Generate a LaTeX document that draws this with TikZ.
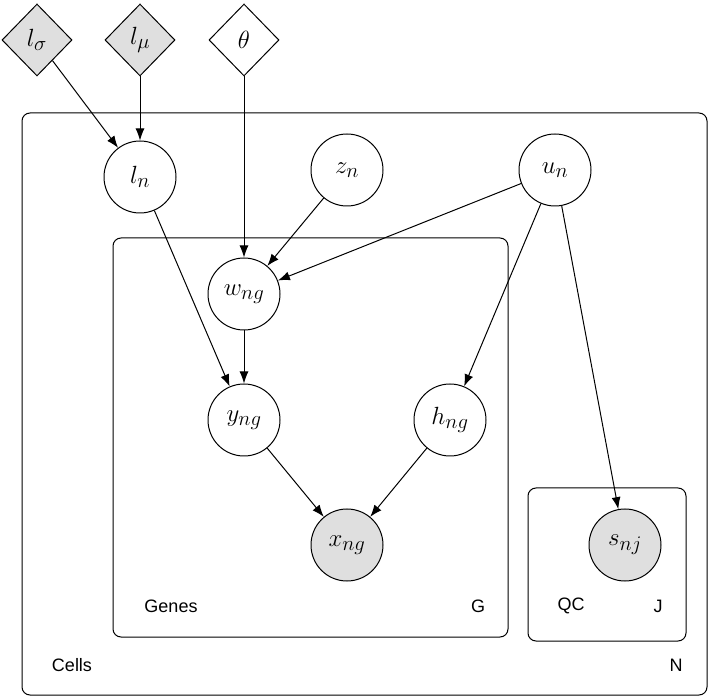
\documentclass[tikz,border=0pt]{standalone}
\usepackage{fontspec}
\newfontfamily\lsans{Liberation Sans}
\usetikzlibrary{shapes.geometric,arrows.meta}
\begin{document}
\begin{tikzpicture}[x=1pt,y=-1pt,line width=1pt,
  lat/.style={circle,draw,minimum size=72pt,inner sep=0pt,font=\fontsize{30}{34}\selectfont},
  obs/.style={lat,fill=gray!25},
  par/.style={diamond,draw,minimum width=70pt,minimum height=72pt,inner sep=0pt,font=\fontsize{30}{34}\selectfont},
  plate/.style={draw,rounded corners=8pt},
  plab/.style={font=\lsans\fontsize{18}{21}\selectfont},
  arr/.style={-{Latex[length=12pt,width=9pt]}}]
\useasboundingbox (0,0) rectangle (710,700);
\draw[plate] (22,113) rectangle (707,695);
\draw[plate] (113,238) rectangle (508,637);
\draw[plate] (528,488) rectangle (686,641);
\node[plab] (cells) at (72,665) {Cells};
\node[plab] (N) at (676,665) {N};
\node[plab] (genes) at (171,606) {Genes};
\node[plab] (G) at (478,606) {G};
\node[plab] (qc) at (571,606) {QC};
\node[plab] (J) at (658,606) {J};
\node[par,fill=gray!25] (ls) at (37,40) {$l_\sigma$};
\node[par,fill=gray!25] (lm) at (140,40) {$l_\mu$};
\node[par] (th) at (244,40) {$\theta$};
\node[lat] (ln) at (140,177) {$l_n$};
\node[lat] (zn) at (347,170) {$z_n$};
\node[lat] (un) at (555,170) {$u_n$};
\node[lat] (w) at (244,294) {$w_{ng}$};
\node[lat] (y) at (244,420) {$y_{ng}$};
\node[lat] (h) at (450,420) {$h_{ng}$};
\node[obs] (x) at (347,545) {$x_{ng}$};
\node[obs] (s) at (625,545) {$s_{nj}$};
\draw[arr] (ls) -- (ln);
\draw[arr] (lm) -- (ln);
\draw[arr] (th) -- (w);
\draw[arr] (zn) -- (w);
\draw[arr] (un) -- (w);
\draw[arr] (un) -- (h);
\draw[arr] (un) -- (s);
\draw[arr] (ln) -- (y);
\draw[arr] (w) -- (y);
\draw[arr] (y) -- (x);
\draw[arr] (h) -- (x);
\end{tikzpicture}
\end{document}
